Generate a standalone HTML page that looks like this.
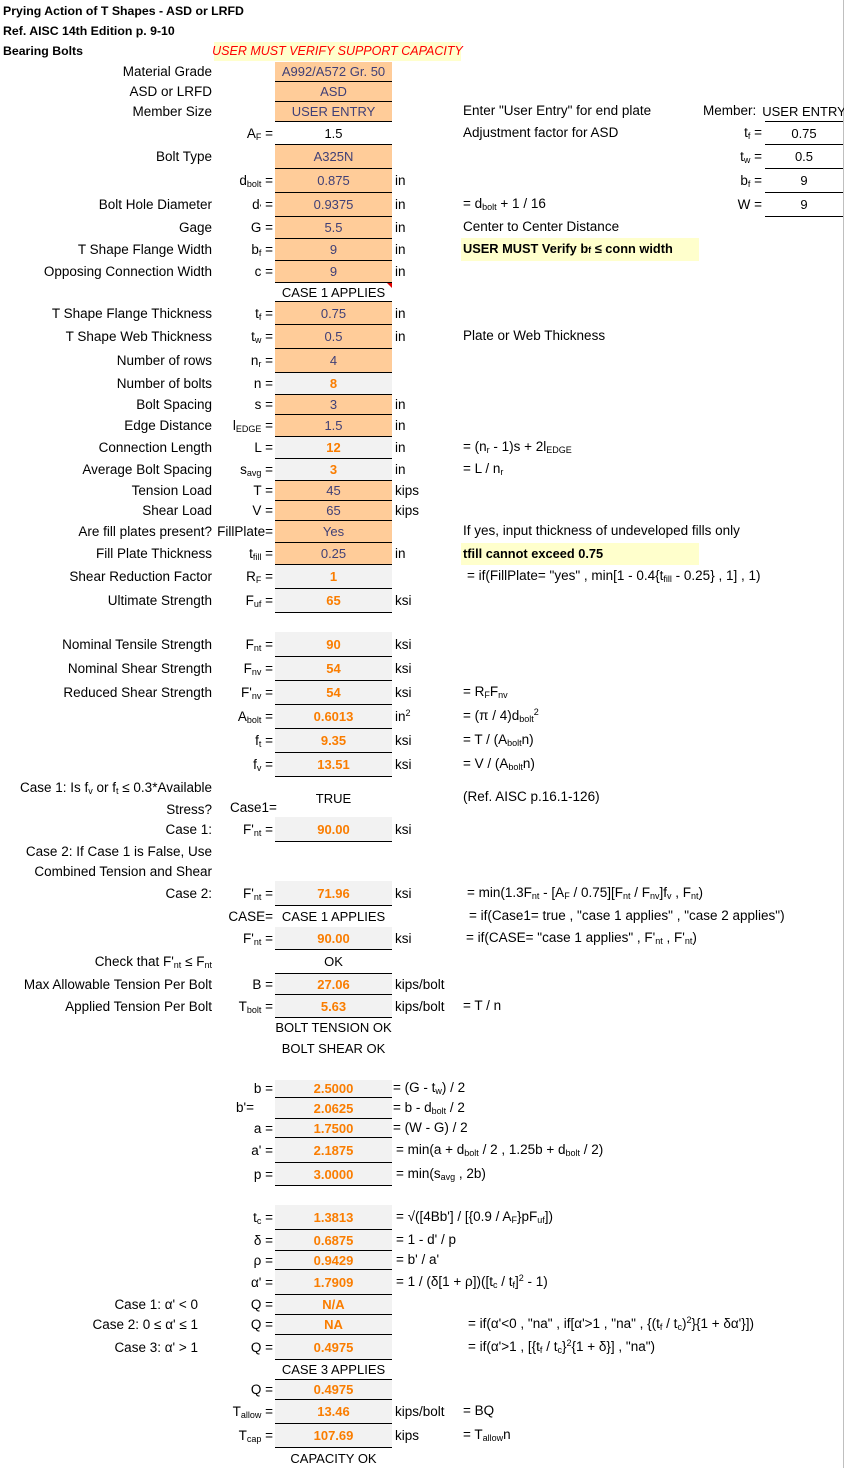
<!DOCTYPE html>
<html><head><meta charset="utf-8">
<style>
html,body{margin:0;padding:0;background:#fff;}
#sheet{position:relative;width:844px;height:1468px;overflow:hidden;font-family:"Liberation Sans",sans-serif;font-size:13.5px;color:#000;}
.a{position:absolute;white-space:nowrap;line-height:1;}
.lab{text-align:right;}
.cell{position:absolute;left:275px;width:117px;display:flex;align-items:center;justify-content:center;white-space:nowrap;box-sizing:border-box;font-size:13px;}
.in{background:#FFCC99;color:#3F3F76;border-bottom:1px solid #000;}
.calc{background:#F2F2F2;color:#FA7D00;font-weight:bold;border-bottom:1px solid #000;}
.plain{border-bottom:1px solid #000;}
.none{}
sub{font-size:9px;vertical-align:-2px;line-height:0;}
sup{font-size:9px;vertical-align:5px;line-height:0;}
</style></head>
<body>
<div id="sheet">
<div class="a" style="left:3px;top:5px;font-weight:bold;font-size:12.3px">Prying Action of T Shapes - ASD or LRFD</div>
<div class="a" style="left:3px;top:25px;font-weight:bold;font-size:12.3px">Ref. AISC 14th Edition p. 9-10</div>
<div class="a" style="left:3px;top:45px;font-weight:bold;font-size:12.3px">Bearing Bolts</div>
<div class="a" style="left:214px;top:42px;width:247px;height:19px;background:#FFFFCC;color:#FF0000;font-style:italic;font-size:12.5px;display:flex;align-items:center;justify-content:center">USER MUST VERIFY SUPPORT CAPACITY</div>
<div class="a" style="left:461px;top:238px;width:238px;height:23px;background:#FFFFCC;font-weight:bold;font-size:12.8px;display:flex;align-items:center;padding-left:2px;box-sizing:border-box">USER MUST Verify b<sub>f</sub>&nbsp;≤ conn width</div>
<div class="a" style="left:461px;top:543px;width:238px;height:22px;background:#FFFFCC;font-weight:bold;font-size:12.8px;display:flex;align-items:center;padding-left:2px;box-sizing:border-box">tfill cannot exceed 0.75</div>
<div class="a" style="left:843px;top:0;width:1px;height:1468px;background:#BFBFBF"></div>
<div class="a" style="left:275px;top:193px;width:0;height:0;border-top:5px solid #1E7B1E;border-right:5px solid transparent"></div>
<div class="a" style="left:387px;top:283px;width:0;height:0;border-top:5px solid #E00000;border-left:5px solid transparent"></div>
</div>
<script>
// rows: [top, height, label, symbol, value, style, unit, note, noteX]
const rowTops=[62,82,102,122,145,169,193,217,239,261,283,302,325,349,373,395,415,437,459,481,501,521,543,565,589,632,657,681,705,729,753,787,817,881,906,927,950,974,995,1017,1038,1080,1098,1119,1138,1163,1205,1230,1251,1270,1295,1315,1335,1360,1380,1400,1424,1448];
const rowHeights=[20,20,20,23,24,24,24,22,22,22,19,23,24,24,22,20,22,22,22,20,20,22,22,24,24,25,24,24,24,24,24,22,25,25,21,23,24,21,23,20,20,18,21,19,25,23,25,21,19,25,20,20,25,20,20,24,24,20];
const labels=["Material Grade","ASD or LRFD","Member Size","","Bolt Type","","Bolt Hole Diameter","Gage","T Shape Flange Width","Opposing Connection Width","","T Shape Flange Thickness","T Shape Web Thickness","Number of rows","Number of bolts","Bolt Spacing","Edge Distance","Connection Length","Average Bolt Spacing","Tension Load","Shear Load","Are fill plates present?","Fill Plate Thickness","Shear Reduction Factor","Ultimate Strength","Nominal Tensile Strength","Nominal Shear Strength","Reduced Shear Strength","","","","","Case 1:","Case 2:","","","Check that F'<sub>nt</sub> ≤ F<sub>nt</sub>","Max Allowable Tension Per Bolt","Applied Tension Per Bolt","","","","","","","","","","","","Case 1: α' &lt; 0","Case 2: 0 ≤ α' ≤ 1","Case 3: α' &gt; 1","","","","",""];
const symbols=["","","","A<sub>F</sub> =","","d<sub>bolt</sub> =","d<sub>'</sub> =","G =","b<sub>f</sub> =","c =","","t<sub>f</sub> =","t<sub>w</sub> =","n<sub>r</sub> =","n =","s =","l<sub>EDGE</sub> =","L =","s<sub>avg</sub> =","T =","V =","FillPlate=","t<sub>fill</sub> =","R<sub>F</sub> =","F<sub>uf</sub> =","F<sub>nt</sub> =","F<sub>nv</sub> =","F'<sub>nv</sub> =","A<sub>bolt</sub> =","f<sub>t</sub> =","f<sub>v</sub> =","","F'<sub>nt</sub> =","F'<sub>nt</sub> =","CASE=","F'<sub>nt</sub> =","","B =","T<sub>bolt</sub> =","","","b =","","a =","a' =","p =","t<sub>c</sub> =","δ =","ρ =","α' =","Q =","Q =","Q =","","Q =","T<sub>allow</sub> =","T<sub>cap</sub> =",""];
const values=["A992/A572 Gr. 50","ASD","USER ENTRY","1.5","A325N","0.875","0.9375","5.5","9","9","CASE 1 APPLIES","0.75","0.5","4","8","3","1.5","12","3","45","65","Yes","0.25","1","65","90","54","54","0.6013","9.35","13.51","TRUE","90.00","71.96","CASE 1 APPLIES","90.00","OK","27.06","5.63","BOLT TENSION OK","BOLT SHEAR OK","2.5000","2.0625","1.7500","2.1875","3.0000","1.3813","0.6875","0.9429","1.7909","N/A","NA","0.4975","CASE 3 APPLIES","0.4975","13.46","107.69","CAPACITY OK"];
const styles=["in","in","in","plain","in","in","in","in","in","in","plain","in","in","in","calc","in","in","calc","calc","in","in","in","in","calc","calc","calc","calc","calc","calc","calc","calc","none","calc","calc","none","calc","plain","calc","calc","none","none","calc","calc","calc","calc","calc","calc","calc","calc","calc","calc","calc","calc","plain","calc","calc","calc","none"];
const units=["","","","","","in","in","in","in","in","","in","in","","","in","in","in","in","kips","kips","","in","","ksi","ksi","ksi","ksi","in<sup>2</sup>","ksi","ksi","","ksi","ksi","","ksi","","kips/bolt","kips/bolt","","","","","","","","","","","","","","","","","kips/bolt","kips",""];
const notes=["","","Enter \"User Entry\" for end plate","Adjustment factor for ASD","","","= d<sub>bolt</sub> + 1 / 16","Center to Center Distance","","","","","Plate or Web Thickness","","","","","= (n<sub>r</sub> - 1)s + 2l<sub>EDGE</sub>","= L / n<sub>r</sub>","","","If yes, input thickness of undeveloped fills only","","= if(FillPlate= \"yes\" , min[1 - 0.4{t<sub>fill</sub> - 0.25} , 1] , 1)","","","","= R<sub>F</sub>F<sub>nv</sub>","= (π / 4)d<sub>bolt</sub><sup>2</sup>","= T / (A<sub>bolt</sub>n)","= V / (A<sub>bolt</sub>n)","(Ref. AISC p.16.1-126)","","= min(1.3F<sub>nt</sub> - [A<sub>F</sub> / 0.75][F<sub>nt</sub> / F<sub>nv</sub>]f<sub>v</sub> , F<sub>nt</sub>)","= if(Case1= true , \"case 1 applies\" , \"case 2 applies\")","= if(CASE= \"case 1 applies\" , F'<sub>nt</sub> , F'<sub>nt</sub>)","","","= T / n","","","= (G - t<sub>w</sub>) / 2","= b - d<sub>bolt</sub> / 2","= (W - G) / 2","= min(a + d<sub>bolt</sub> / 2 , 1.25b + d<sub>bolt</sub> / 2)","= min(s<sub>avg</sub> , 2b)","= √([4Bb'] / [{0.9 / A<sub>F</sub>}pF<sub>uf</sub>])","= 1 - d' / p","= b' / a'","= 1 / (δ[1 + ρ])([t<sub>c</sub> / t<sub>f</sub>]<sup>2</sup> - 1)","","= if(α'&lt;0 , \"na\" , if[α'&gt;1 , \"na\" , {(t<sub>f</sub> / t<sub>c</sub>)<sup>2</sup>}{1 + δα'}])","= if(α'&gt;1 , [{t<sub>f</sub> / t<sub>c</sub>}<sup>2</sup>{1 + δ}] , \"na\")","","","= BQ","= T<sub>allow</sub>n",""];
const noteXs=[463,463,463,463,463,463,463,463,463,463,463,463,463,463,463,463,463,463,463,463,463,463,463,467,463,463,463,463,463,463,463,463,463,467,469,466,463,463,463,463,463,393,393,393,396,396,396,396,396,396,396,468,468,463,463,463,463,463];

const sheet=document.getElementById('sheet');
function mk(cls,html,css){const d=document.createElement('div');d.className=cls;d.innerHTML=html;d.style.cssText=css;sheet.appendChild(d);return d;}
for(let i=0;i<rowTops.length;i++){
  const t=rowTops[i],h=rowHeights[i],mid=t+h/2-7;
  if(labels[i]){
    const isCase=(i>=50&&i<=52);
    const el=mk('a lab',labels[i],'right:'+(isCase?646:632)+'px;top:'+mid+'px');
    
    
  }
  if(symbols[i]){
    const el=mk('a lab',symbols[i],'right:571px;top:'+mid+'px');
    
    
  }
  const c=mk('cell '+styles[i],values[i],'top:'+t+'px;height:'+h+'px');
  
  
  if(units[i]){
    const el=mk('a',units[i],'left:395px;top:'+mid+'px');
    
    
  }
  if(notes[i]){
    const el=mk('a',notes[i],'left:'+noteXs[i]+'px;top:'+(mid-1)+'px');
    
    
  }
}
// extra free texts
const ex=[
 ['a','Member:','left:703px;top:104px','member-label'],
 ['a lab','t<sub>f</sub> =','right:82px;top:126px','right-tf-label'],
 ['a lab','t<sub>w</sub> =','right:82px;top:150px','right-tw-label'],
 ['a lab','b<sub>f</sub> =','right:82px;top:174px','right-bf-label'],
 ['a lab','W =','right:82px;top:198px','right-w-label'],
 ['a lab','Case 1: Is f<sub>v</sub> or f<sub>t</sub> ≤ 0.3*Available','right:632px;top:781px','case1-question-1'],
 ['a lab','Stress?','right:632px;top:803px','case1-question-2'],
 ['a','Case1=','left:230px;top:801px','case1-symbol'],
 ['a lab','Case 2: If Case 1 is False, Use','right:632px;top:845px','case2-note-1'],
 ['a lab','Combined Tension and Shear','right:632px;top:865px','case2-note-2'],
 ['a','b\'=','left:236px;top:1101px','bprime-label']
];
ex.forEach(e=>{const el=mk(e[0],e[1],e[2]);
 
 });
const rv=[['USER ENTRY',102,20],['0.75',122,23],['0.5',145,24],['9',169,24],['9',193,24]];
rv.forEach(r=>{const c=mk('cell plain',r[0],'left:765px;width:78px;top:'+r[1]+'px;height:'+r[2]+'px');
 
 });
</script>
</body></html>
